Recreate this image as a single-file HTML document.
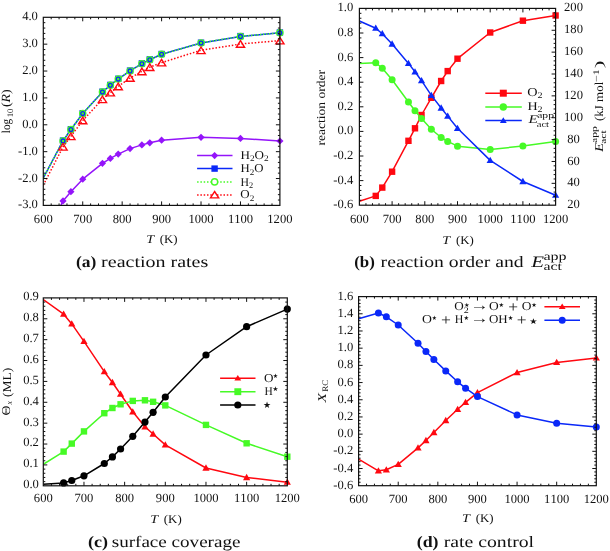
<!DOCTYPE html><html><head><meta charset="utf-8"><title>Figure</title><style>html,body{margin:0;padding:0;background:#fff;}svg{display:block;}text{font-family:'Liberation Serif', 'DejaVu Serif', serif;fill:#111;white-space:pre;font-kerning:none;text-rendering:geometricPrecision;}.st{font-family:'DejaVu Sans', sans-serif;}</style></head><body>
<svg width="610" height="551" viewBox="0 0 610 551">
<rect width="610" height="551" fill="#fff"/>
<defs>
<clipPath id="ca"><rect x="43.30" y="17.30" width="236.60" height="188.10"/></clipPath>
<clipPath id="cb"><rect x="359.40" y="8.40" width="196.20" height="196.80"/></clipPath>
<clipPath id="cc"><rect x="43.30" y="297.90" width="244.00" height="187.90"/></clipPath>
<clipPath id="cd"><rect x="358.60" y="296.60" width="237.70" height="189.10"/></clipPath>
</defs>
<polyline points="43.30,243.00 63.02,200.90 70.90,191.70 82.73,179.20 102.45,163.30 110.34,158.40 118.22,154.10 130.05,148.60 141.88,144.90 149.77,142.80 161.60,140.20 201.03,137.30 240.47,138.40 279.90,141.00" fill="none" stroke="#9414fa" stroke-width="1.5" stroke-linejoin="round" clip-path="url(#ca)"/>
<polygon points="63.02,197.30 66.62,200.90 63.02,204.50 59.42,200.90" fill="#9414fa"/>
<polygon points="70.90,188.10 74.50,191.70 70.90,195.30 67.30,191.70" fill="#9414fa"/>
<polygon points="82.73,175.60 86.33,179.20 82.73,182.80 79.13,179.20" fill="#9414fa"/>
<polygon points="102.45,159.70 106.05,163.30 102.45,166.90 98.85,163.30" fill="#9414fa"/>
<polygon points="110.34,154.80 113.94,158.40 110.34,162.00 106.74,158.40" fill="#9414fa"/>
<polygon points="118.22,150.50 121.82,154.10 118.22,157.70 114.62,154.10" fill="#9414fa"/>
<polygon points="130.05,145.00 133.65,148.60 130.05,152.20 126.45,148.60" fill="#9414fa"/>
<polygon points="141.88,141.30 145.48,144.90 141.88,148.50 138.28,144.90" fill="#9414fa"/>
<polygon points="149.77,139.20 153.37,142.80 149.77,146.40 146.17,142.80" fill="#9414fa"/>
<polygon points="161.60,136.60 165.20,140.20 161.60,143.80 158.00,140.20" fill="#9414fa"/>
<polygon points="201.03,133.70 204.63,137.30 201.03,140.90 197.43,137.30" fill="#9414fa"/>
<polygon points="240.47,134.80 244.07,138.40 240.47,142.00 236.87,138.40" fill="#9414fa"/>
<polygon points="279.90,137.40 283.50,141.00 279.90,144.60 276.30,141.00" fill="#9414fa"/>
<polyline points="43.30,178.00 63.02,140.90 70.90,129.50 82.73,113.50 102.45,92.00 110.34,85.20 118.22,79.10 130.05,70.90 141.88,63.70 149.77,59.70 161.60,54.30 201.03,43.00 240.47,36.40 279.90,32.80" fill="none" stroke="#0a28f8" stroke-width="1.5" stroke-linejoin="round" clip-path="url(#ca)"/>
<rect x="59.82" y="137.40" width="6.40" height="6.40" fill="#0a28f8"/>
<rect x="67.70" y="126.00" width="6.40" height="6.40" fill="#0a28f8"/>
<rect x="79.53" y="110.00" width="6.40" height="6.40" fill="#0a28f8"/>
<rect x="99.25" y="88.50" width="6.40" height="6.40" fill="#0a28f8"/>
<rect x="107.14" y="81.70" width="6.40" height="6.40" fill="#0a28f8"/>
<rect x="115.02" y="75.60" width="6.40" height="6.40" fill="#0a28f8"/>
<rect x="126.85" y="67.40" width="6.40" height="6.40" fill="#0a28f8"/>
<rect x="138.68" y="60.20" width="6.40" height="6.40" fill="#0a28f8"/>
<rect x="146.57" y="56.20" width="6.40" height="6.40" fill="#0a28f8"/>
<rect x="158.40" y="50.80" width="6.40" height="6.40" fill="#0a28f8"/>
<rect x="197.83" y="39.50" width="6.40" height="6.40" fill="#0a28f8"/>
<rect x="237.27" y="32.90" width="6.40" height="6.40" fill="#0a28f8"/>
<rect x="276.70" y="29.30" width="6.40" height="6.40" fill="#0a28f8"/>
<polyline points="43.30,178.00 63.02,140.90 70.90,129.50 82.73,113.50 102.45,92.00 110.34,85.20 118.22,79.10 130.05,70.90 141.88,63.70 149.77,59.70 161.60,54.30 201.03,43.00 240.47,36.40 279.90,32.80" fill="none" stroke="#46fa26" stroke-width="1.5" stroke-linejoin="round" stroke-dasharray="1.5,1.5" clip-path="url(#ca)"/>
<circle cx="63.02" cy="140.90" r="3.75" fill="#46fa26"/>
<circle cx="63.02" cy="140.90" r="1.9" fill="none" stroke="#0a28f8" stroke-width="1.3"/>
<circle cx="70.90" cy="129.50" r="3.75" fill="#46fa26"/>
<circle cx="70.90" cy="129.50" r="1.9" fill="none" stroke="#0a28f8" stroke-width="1.3"/>
<circle cx="82.73" cy="113.50" r="3.75" fill="#46fa26"/>
<circle cx="82.73" cy="113.50" r="1.9" fill="none" stroke="#0a28f8" stroke-width="1.3"/>
<circle cx="102.45" cy="92.00" r="3.75" fill="#46fa26"/>
<circle cx="102.45" cy="92.00" r="1.9" fill="none" stroke="#0a28f8" stroke-width="1.3"/>
<circle cx="110.34" cy="85.20" r="3.75" fill="#46fa26"/>
<circle cx="110.34" cy="85.20" r="1.9" fill="none" stroke="#0a28f8" stroke-width="1.3"/>
<circle cx="118.22" cy="79.10" r="3.75" fill="#46fa26"/>
<circle cx="118.22" cy="79.10" r="1.9" fill="none" stroke="#0a28f8" stroke-width="1.3"/>
<circle cx="130.05" cy="70.90" r="3.75" fill="#46fa26"/>
<circle cx="130.05" cy="70.90" r="1.9" fill="none" stroke="#0a28f8" stroke-width="1.3"/>
<circle cx="141.88" cy="63.70" r="3.75" fill="#46fa26"/>
<circle cx="141.88" cy="63.70" r="1.9" fill="none" stroke="#0a28f8" stroke-width="1.3"/>
<circle cx="149.77" cy="59.70" r="3.75" fill="#46fa26"/>
<circle cx="149.77" cy="59.70" r="1.9" fill="none" stroke="#0a28f8" stroke-width="1.3"/>
<circle cx="161.60" cy="54.30" r="3.75" fill="#46fa26"/>
<circle cx="161.60" cy="54.30" r="1.9" fill="none" stroke="#0a28f8" stroke-width="1.3"/>
<circle cx="201.03" cy="43.00" r="3.75" fill="#46fa26"/>
<circle cx="201.03" cy="43.00" r="1.9" fill="none" stroke="#0a28f8" stroke-width="1.3"/>
<circle cx="240.47" cy="36.40" r="3.75" fill="#46fa26"/>
<circle cx="240.47" cy="36.40" r="1.9" fill="none" stroke="#0a28f8" stroke-width="1.3"/>
<circle cx="279.90" cy="32.80" r="3.75" fill="#46fa26"/>
<circle cx="279.90" cy="32.80" r="1.9" fill="none" stroke="#0a28f8" stroke-width="1.3"/>
<polyline points="43.30,185.20 63.02,146.80 70.90,136.30 82.73,120.50 102.45,99.30 110.34,92.60 118.22,86.40 130.05,78.00 141.88,71.40 149.77,67.20 161.60,62.60 201.03,50.30 240.47,44.00 279.90,40.60" fill="none" stroke="#ff0810" stroke-width="1.5" stroke-linejoin="round" stroke-dasharray="1.5,1.8" clip-path="url(#ca)"/>
<polygon points="63.02,143.50 67.12,150.10 58.92,150.10" fill="none" stroke="#ff0810" stroke-width="1.4" stroke-linejoin="miter"/>
<polygon points="70.90,133.00 75.00,139.60 66.80,139.60" fill="none" stroke="#ff0810" stroke-width="1.4" stroke-linejoin="miter"/>
<polygon points="82.73,117.20 86.83,123.80 78.63,123.80" fill="none" stroke="#ff0810" stroke-width="1.4" stroke-linejoin="miter"/>
<polygon points="102.45,96.00 106.55,102.60 98.35,102.60" fill="none" stroke="#ff0810" stroke-width="1.4" stroke-linejoin="miter"/>
<polygon points="110.34,89.30 114.44,95.90 106.24,95.90" fill="none" stroke="#ff0810" stroke-width="1.4" stroke-linejoin="miter"/>
<polygon points="118.22,83.10 122.32,89.70 114.12,89.70" fill="none" stroke="#ff0810" stroke-width="1.4" stroke-linejoin="miter"/>
<polygon points="130.05,74.70 134.15,81.30 125.95,81.30" fill="none" stroke="#ff0810" stroke-width="1.4" stroke-linejoin="miter"/>
<polygon points="141.88,68.10 145.98,74.70 137.78,74.70" fill="none" stroke="#ff0810" stroke-width="1.4" stroke-linejoin="miter"/>
<polygon points="149.77,63.90 153.87,70.50 145.67,70.50" fill="none" stroke="#ff0810" stroke-width="1.4" stroke-linejoin="miter"/>
<polygon points="161.60,59.30 165.70,65.90 157.50,65.90" fill="none" stroke="#ff0810" stroke-width="1.4" stroke-linejoin="miter"/>
<polygon points="201.03,47.00 205.13,53.60 196.93,53.60" fill="none" stroke="#ff0810" stroke-width="1.4" stroke-linejoin="miter"/>
<polygon points="240.47,40.70 244.57,47.30 236.37,47.30" fill="none" stroke="#ff0810" stroke-width="1.4" stroke-linejoin="miter"/>
<polygon points="279.90,37.30 284.00,43.90 275.80,43.90" fill="none" stroke="#ff0810" stroke-width="1.4" stroke-linejoin="miter"/>
<rect x="43.30" y="17.30" width="236.60" height="188.10" fill="none" stroke="#111111" stroke-width="1.2"/>
<text x="43.30" y="223.20" text-anchor="middle" font-size="12.6">600</text>
<text x="82.73" y="223.20" text-anchor="middle" font-size="12.6">700</text>
<text x="122.17" y="223.20" text-anchor="middle" font-size="12.6">800</text>
<text x="161.60" y="223.20" text-anchor="middle" font-size="12.6">900</text>
<text x="201.03" y="223.20" text-anchor="middle" font-size="12.6">1000</text>
<text x="240.47" y="223.20" text-anchor="middle" font-size="12.6">1100</text>
<text x="279.90" y="223.20" text-anchor="middle" font-size="12.6">1200</text>
<path d="M51.19 205.40V203.40M51.19 17.30V19.30M59.07 205.40V203.40M59.07 17.30V19.30M66.96 205.40V203.40M66.96 17.30V19.30M74.85 205.40V203.40M74.85 17.30V19.30M82.73 205.40V201.40M82.73 17.30V21.30M90.62 205.40V203.40M90.62 17.30V19.30M98.51 205.40V203.40M98.51 17.30V19.30M106.39 205.40V203.40M106.39 17.30V19.30M114.28 205.40V203.40M114.28 17.30V19.30M122.17 205.40V201.40M122.17 17.30V21.30M130.05 205.40V203.40M130.05 17.30V19.30M137.94 205.40V203.40M137.94 17.30V19.30M145.83 205.40V203.40M145.83 17.30V19.30M153.71 205.40V203.40M153.71 17.30V19.30M161.60 205.40V201.40M161.60 17.30V21.30M169.49 205.40V203.40M169.49 17.30V19.30M177.37 205.40V203.40M177.37 17.30V19.30M185.26 205.40V203.40M185.26 17.30V19.30M193.15 205.40V203.40M193.15 17.30V19.30M201.03 205.40V201.40M201.03 17.30V21.30M208.92 205.40V203.40M208.92 17.30V19.30M216.81 205.40V203.40M216.81 17.30V19.30M224.69 205.40V203.40M224.69 17.30V19.30M232.58 205.40V203.40M232.58 17.30V19.30M240.47 205.40V201.40M240.47 17.30V21.30M248.35 205.40V203.40M248.35 17.30V19.30M256.24 205.40V203.40M256.24 17.30V19.30M264.13 205.40V203.40M264.13 17.30V19.30M272.01 205.40V203.40M272.01 17.30V19.30" stroke="#111111" stroke-width="1" fill="none"/>
<text x="37.90" y="208.45" text-anchor="end" font-size="12.6">-3.0</text>
<text x="37.90" y="181.58" text-anchor="end" font-size="12.6">-2.0</text>
<text x="37.90" y="154.71" text-anchor="end" font-size="12.6">-1.0</text>
<text x="37.90" y="127.84" text-anchor="end" font-size="12.6">0.0</text>
<text x="37.90" y="100.96" text-anchor="end" font-size="12.6">1.0</text>
<text x="37.90" y="74.09" text-anchor="end" font-size="12.6">2.0</text>
<text x="37.90" y="47.22" text-anchor="end" font-size="12.6">3.0</text>
<text x="37.90" y="20.35" text-anchor="end" font-size="12.6">4.0</text>
<path d="M43.30 200.03H45.30M279.90 200.03H277.90M43.30 194.65H45.30M279.90 194.65H277.90M43.30 189.28H45.30M279.90 189.28H277.90M43.30 183.90H45.30M279.90 183.90H277.90M43.30 178.53H47.30M279.90 178.53H275.90M43.30 173.15H45.30M279.90 173.15H277.90M43.30 167.78H45.30M279.90 167.78H277.90M43.30 162.41H45.30M279.90 162.41H277.90M43.30 157.03H45.30M279.90 157.03H277.90M43.30 151.66H47.30M279.90 151.66H275.90M43.30 146.28H45.30M279.90 146.28H277.90M43.30 140.91H45.30M279.90 140.91H277.90M43.30 135.53H45.30M279.90 135.53H277.90M43.30 130.16H45.30M279.90 130.16H277.90M43.30 124.79H47.30M279.90 124.79H275.90M43.30 119.41H45.30M279.90 119.41H277.90M43.30 114.04H45.30M279.90 114.04H277.90M43.30 108.66H45.30M279.90 108.66H277.90M43.30 103.29H45.30M279.90 103.29H277.90M43.30 97.91H47.30M279.90 97.91H275.90M43.30 92.54H45.30M279.90 92.54H277.90M43.30 87.17H45.30M279.90 87.17H277.90M43.30 81.79H45.30M279.90 81.79H277.90M43.30 76.42H45.30M279.90 76.42H277.90M43.30 71.04H47.30M279.90 71.04H275.90M43.30 65.67H45.30M279.90 65.67H277.90M43.30 60.29H45.30M279.90 60.29H277.90M43.30 54.92H45.30M279.90 54.92H277.90M43.30 49.55H45.30M279.90 49.55H277.90M43.30 44.17H47.30M279.90 44.17H275.90M43.30 38.80H45.30M279.90 38.80H277.90M43.30 33.42H45.30M279.90 33.42H277.90M43.30 28.05H45.30M279.90 28.05H277.90M43.30 22.67H45.30M279.90 22.67H277.90" stroke="#111111" stroke-width="1" fill="none"/>
<path d="M197.1 155.6H232.5" stroke="#9414fa" stroke-width="1.5"/>
<polygon points="214.60,152.00 218.20,155.60 214.60,159.20 211.00,155.60" fill="#9414fa"/>
<path d="M197.1 168.6H232.5" stroke="#0a28f8" stroke-width="1.5"/>
<rect x="211.40" y="165.40" width="6.40" height="6.40" fill="#0a28f8"/>
<path d="M197.1 181.9H232.5" stroke="#46fa26" stroke-width="1.5" stroke-dasharray="1.5,1.8"/>
<circle cx="214.60" cy="181.90" r="3.1" fill="#fff" stroke="#46fa26" stroke-width="1.4"/>
<path d="M197.1 194.9H232.5" stroke="#ff0810" stroke-width="1.5" stroke-dasharray="1.5,1.8"/>
<polygon points="214.60,191.50 218.70,197.90 210.50,197.90" fill="#fff" stroke="#ff0810" stroke-width="1.4"/>
<polyline points="359.40,201.30 375.75,195.90 382.29,187.60 392.10,171.70 408.45,140.80 414.99,128.30 421.53,115.00 431.34,97.80 441.15,81.00 447.69,71.10 457.50,58.70 490.20,32.50 522.90,20.70 555.60,15.50" fill="none" stroke="#ff0810" stroke-width="1.5" stroke-linejoin="round" clip-path="url(#cb)"/>
<rect x="372.55" y="192.70" width="6.40" height="6.40" fill="#ff0810"/>
<rect x="379.09" y="184.40" width="6.40" height="6.40" fill="#ff0810"/>
<rect x="388.90" y="168.50" width="6.40" height="6.40" fill="#ff0810"/>
<rect x="405.25" y="137.60" width="6.40" height="6.40" fill="#ff0810"/>
<rect x="411.79" y="125.10" width="6.40" height="6.40" fill="#ff0810"/>
<rect x="418.33" y="111.80" width="6.40" height="6.40" fill="#ff0810"/>
<rect x="428.14" y="94.60" width="6.40" height="6.40" fill="#ff0810"/>
<rect x="437.95" y="77.80" width="6.40" height="6.40" fill="#ff0810"/>
<rect x="444.49" y="67.90" width="6.40" height="6.40" fill="#ff0810"/>
<rect x="454.30" y="55.50" width="6.40" height="6.40" fill="#ff0810"/>
<rect x="487.00" y="29.30" width="6.40" height="6.40" fill="#ff0810"/>
<rect x="519.70" y="17.50" width="6.40" height="6.40" fill="#ff0810"/>
<rect x="552.40" y="12.30" width="6.40" height="6.40" fill="#ff0810"/>
<polyline points="359.40,63.40 375.75,62.70 382.29,68.20 392.10,79.80 408.45,102.00 414.99,110.70 421.53,118.50 431.34,129.20 441.15,137.50 447.69,141.40 457.50,146.20 490.20,149.50 522.90,146.00 555.60,141.40" fill="none" stroke="#46fa26" stroke-width="1.5" stroke-linejoin="round" clip-path="url(#cb)"/>
<circle cx="375.75" cy="62.70" r="3.50" fill="#46fa26"/>
<circle cx="382.29" cy="68.20" r="3.50" fill="#46fa26"/>
<circle cx="392.10" cy="79.80" r="3.50" fill="#46fa26"/>
<circle cx="408.45" cy="102.00" r="3.50" fill="#46fa26"/>
<circle cx="414.99" cy="110.70" r="3.50" fill="#46fa26"/>
<circle cx="421.53" cy="118.50" r="3.50" fill="#46fa26"/>
<circle cx="431.34" cy="129.20" r="3.50" fill="#46fa26"/>
<circle cx="441.15" cy="137.50" r="3.50" fill="#46fa26"/>
<circle cx="447.69" cy="141.40" r="3.50" fill="#46fa26"/>
<circle cx="457.50" cy="146.20" r="3.50" fill="#46fa26"/>
<circle cx="490.20" cy="149.50" r="3.50" fill="#46fa26"/>
<circle cx="522.90" cy="146.00" r="3.50" fill="#46fa26"/>
<circle cx="555.60" cy="141.40" r="3.50" fill="#46fa26"/>
<polyline points="359.40,21.00 375.75,28.20 382.29,33.70 392.10,44.00 408.45,63.40 414.99,71.80 421.53,80.70 431.34,95.40 441.15,108.00 447.69,116.10 457.50,128.30 490.20,160.40 522.90,181.50 555.60,195.20" fill="none" stroke="#0a28f8" stroke-width="1.5" stroke-linejoin="round" clip-path="url(#cb)"/>
<polygon points="375.75,24.55 379.35,30.85 372.15,30.85" fill="#0a28f8"/>
<polygon points="382.29,30.05 385.89,36.35 378.69,36.35" fill="#0a28f8"/>
<polygon points="392.10,40.35 395.70,46.65 388.50,46.65" fill="#0a28f8"/>
<polygon points="408.45,59.75 412.05,66.05 404.85,66.05" fill="#0a28f8"/>
<polygon points="414.99,68.15 418.59,74.45 411.39,74.45" fill="#0a28f8"/>
<polygon points="421.53,77.05 425.13,83.35 417.93,83.35" fill="#0a28f8"/>
<polygon points="431.34,91.75 434.94,98.05 427.74,98.05" fill="#0a28f8"/>
<polygon points="441.15,104.35 444.75,110.65 437.55,110.65" fill="#0a28f8"/>
<polygon points="447.69,112.45 451.29,118.75 444.09,118.75" fill="#0a28f8"/>
<polygon points="457.50,124.65 461.10,130.95 453.90,130.95" fill="#0a28f8"/>
<polygon points="490.20,156.75 493.80,163.05 486.60,163.05" fill="#0a28f8"/>
<polygon points="522.90,177.85 526.50,184.15 519.30,184.15" fill="#0a28f8"/>
<polygon points="555.60,191.55 559.20,197.85 552.00,197.85" fill="#0a28f8"/>
<rect x="359.40" y="8.40" width="196.20" height="196.80" fill="none" stroke="#111111" stroke-width="1.2"/>
<text x="359.40" y="223.40" text-anchor="middle" font-size="12.6">600</text>
<text x="392.10" y="223.40" text-anchor="middle" font-size="12.6">700</text>
<text x="424.80" y="223.40" text-anchor="middle" font-size="12.6">800</text>
<text x="457.50" y="223.40" text-anchor="middle" font-size="12.6">900</text>
<text x="490.20" y="223.40" text-anchor="middle" font-size="12.6">1000</text>
<text x="522.90" y="223.40" text-anchor="middle" font-size="12.6">1100</text>
<text x="555.60" y="223.40" text-anchor="middle" font-size="12.6">1200</text>
<path d="M365.94 205.20V203.20M365.94 8.40V10.40M372.48 205.20V203.20M372.48 8.40V10.40M379.02 205.20V203.20M379.02 8.40V10.40M385.56 205.20V203.20M385.56 8.40V10.40M392.10 205.20V201.20M392.10 8.40V12.40M398.64 205.20V203.20M398.64 8.40V10.40M405.18 205.20V203.20M405.18 8.40V10.40M411.72 205.20V203.20M411.72 8.40V10.40M418.26 205.20V203.20M418.26 8.40V10.40M424.80 205.20V201.20M424.80 8.40V12.40M431.34 205.20V203.20M431.34 8.40V10.40M437.88 205.20V203.20M437.88 8.40V10.40M444.42 205.20V203.20M444.42 8.40V10.40M450.96 205.20V203.20M450.96 8.40V10.40M457.50 205.20V201.20M457.50 8.40V12.40M464.04 205.20V203.20M464.04 8.40V10.40M470.58 205.20V203.20M470.58 8.40V10.40M477.12 205.20V203.20M477.12 8.40V10.40M483.66 205.20V203.20M483.66 8.40V10.40M490.20 205.20V201.20M490.20 8.40V12.40M496.74 205.20V203.20M496.74 8.40V10.40M503.28 205.20V203.20M503.28 8.40V10.40M509.82 205.20V203.20M509.82 8.40V10.40M516.36 205.20V203.20M516.36 8.40V10.40M522.90 205.20V201.20M522.90 8.40V12.40M529.44 205.20V203.20M529.44 8.40V10.40M535.98 205.20V203.20M535.98 8.40V10.40M542.52 205.20V203.20M542.52 8.40V10.40M549.06 205.20V203.20M549.06 8.40V10.40" stroke="#111111" stroke-width="1" fill="none"/>
<text x="353.20" y="208.25" text-anchor="end" font-size="12.6">-0.6</text>
<text x="353.20" y="183.65" text-anchor="end" font-size="12.6">-0.4</text>
<text x="353.20" y="159.05" text-anchor="end" font-size="12.6">-0.2</text>
<text x="353.20" y="134.45" text-anchor="end" font-size="12.6">0.0</text>
<text x="353.20" y="109.85" text-anchor="end" font-size="12.6">0.2</text>
<text x="353.20" y="85.25" text-anchor="end" font-size="12.6">0.4</text>
<text x="353.20" y="60.65" text-anchor="end" font-size="12.6">0.6</text>
<text x="353.20" y="36.05" text-anchor="end" font-size="12.6">0.8</text>
<text x="353.20" y="11.45" text-anchor="end" font-size="12.6">1.0</text>
<path d="M359.40 200.28H361.40M359.40 195.36H361.40M359.40 190.44H361.40M359.40 185.52H361.40M359.40 180.60H363.40M359.40 175.68H361.40M359.40 170.76H361.40M359.40 165.84H361.40M359.40 160.92H361.40M359.40 156.00H363.40M359.40 151.08H361.40M359.40 146.16H361.40M359.40 141.24H361.40M359.40 136.32H361.40M359.40 131.40H363.40M359.40 126.48H361.40M359.40 121.56H361.40M359.40 116.64H361.40M359.40 111.72H361.40M359.40 106.80H363.40M359.40 101.88H361.40M359.40 96.96H361.40M359.40 92.04H361.40M359.40 87.12H361.40M359.40 82.20H363.40M359.40 77.28H361.40M359.40 72.36H361.40M359.40 67.44H361.40M359.40 62.52H361.40M359.40 57.60H363.40M359.40 52.68H361.40M359.40 47.76H361.40M359.40 42.84H361.40M359.40 37.92H361.40M359.40 33.00H363.40M359.40 28.08H361.40M359.40 23.16H361.40M359.40 18.24H361.40M359.40 13.32H361.40" stroke="#111111" stroke-width="1" fill="none"/>
<path d="M555.60 200.83H553.60M555.60 196.45H553.60M555.60 192.08H553.60M555.60 187.71H553.60M555.60 183.33H551.60M555.60 178.96H553.60M555.60 174.59H553.60M555.60 170.21H553.60M555.60 165.84H553.60M555.60 161.47H551.60M555.60 157.09H553.60M555.60 152.72H553.60M555.60 148.35H553.60M555.60 143.97H553.60M555.60 139.60H551.60M555.60 135.23H553.60M555.60 130.85H553.60M555.60 126.48H553.60M555.60 122.11H553.60M555.60 117.73H551.60M555.60 113.36H553.60M555.60 108.99H553.60M555.60 104.61H553.60M555.60 100.24H553.60M555.60 95.87H551.60M555.60 91.49H553.60M555.60 87.12H553.60M555.60 82.75H553.60M555.60 78.37H553.60M555.60 74.00H551.60M555.60 69.63H553.60M555.60 65.25H553.60M555.60 60.88H553.60M555.60 56.51H553.60M555.60 52.13H551.60M555.60 47.76H553.60M555.60 43.39H553.60M555.60 39.01H553.60M555.60 34.64H553.60M555.60 30.27H551.60M555.60 25.89H553.60M555.60 21.52H553.60M555.60 17.15H553.60M555.60 12.77H553.60" stroke="#111111" stroke-width="1" fill="none"/>
<path d="M485.3 93.2H521.8" stroke="#ff0810" stroke-width="1.5"/>
<rect x="499.80" y="89.70" width="7.00" height="7.00" fill="#ff0810"/>
<path d="M485.3 107.0H521.8" stroke="#46fa26" stroke-width="1.5"/>
<circle cx="503.30" cy="107.00" r="3.70" fill="#46fa26"/>
<path d="M485.3 120.6H521.8" stroke="#0a28f8" stroke-width="1.5"/>
<polygon points="503.30,117.30 506.70,122.90 499.90,122.90" fill="#0a28f8"/>
<polyline points="43.30,299.60 63.63,314.20 71.77,323.90 83.97,341.40 104.30,371.70 112.43,382.50 120.57,394.20 132.77,411.80 144.97,426.80 153.10,434.00 165.30,444.90 205.97,468.00 246.63,477.50 287.30,482.20" fill="none" stroke="#ff0810" stroke-width="1.5" stroke-linejoin="round" clip-path="url(#cc)"/>
<polygon points="63.63,310.55 67.23,316.85 60.03,316.85" fill="#ff0810"/>
<polygon points="71.77,320.25 75.37,326.55 68.17,326.55" fill="#ff0810"/>
<polygon points="83.97,337.75 87.57,344.05 80.37,344.05" fill="#ff0810"/>
<polygon points="104.30,368.05 107.90,374.35 100.70,374.35" fill="#ff0810"/>
<polygon points="112.43,378.85 116.03,385.15 108.83,385.15" fill="#ff0810"/>
<polygon points="120.57,390.55 124.17,396.85 116.97,396.85" fill="#ff0810"/>
<polygon points="132.77,408.15 136.37,414.45 129.17,414.45" fill="#ff0810"/>
<polygon points="144.97,423.15 148.57,429.45 141.37,429.45" fill="#ff0810"/>
<polygon points="153.10,430.35 156.70,436.65 149.50,436.65" fill="#ff0810"/>
<polygon points="165.30,441.25 168.90,447.55 161.70,447.55" fill="#ff0810"/>
<polygon points="205.97,464.35 209.57,470.65 202.37,470.65" fill="#ff0810"/>
<polygon points="246.63,473.85 250.23,480.15 243.03,480.15" fill="#ff0810"/>
<polygon points="287.30,478.55 290.90,484.85 283.70,484.85" fill="#ff0810"/>
<polyline points="43.30,464.30 63.63,451.60 71.77,443.60 83.97,431.40 104.30,413.20 112.43,408.00 120.57,404.30 132.77,400.90 144.97,400.30 153.10,401.80 165.30,405.40 205.97,424.90 246.63,443.30 287.30,456.70" fill="none" stroke="#46fa26" stroke-width="1.5" stroke-linejoin="round" clip-path="url(#cc)"/>
<rect x="60.43" y="448.40" width="6.40" height="6.40" fill="#46fa26"/>
<rect x="68.57" y="440.40" width="6.40" height="6.40" fill="#46fa26"/>
<rect x="80.77" y="428.20" width="6.40" height="6.40" fill="#46fa26"/>
<rect x="101.10" y="410.00" width="6.40" height="6.40" fill="#46fa26"/>
<rect x="109.23" y="404.80" width="6.40" height="6.40" fill="#46fa26"/>
<rect x="117.37" y="401.10" width="6.40" height="6.40" fill="#46fa26"/>
<rect x="129.57" y="397.70" width="6.40" height="6.40" fill="#46fa26"/>
<rect x="141.77" y="397.10" width="6.40" height="6.40" fill="#46fa26"/>
<rect x="149.90" y="398.60" width="6.40" height="6.40" fill="#46fa26"/>
<rect x="162.10" y="402.20" width="6.40" height="6.40" fill="#46fa26"/>
<rect x="202.77" y="421.70" width="6.40" height="6.40" fill="#46fa26"/>
<rect x="243.43" y="440.10" width="6.40" height="6.40" fill="#46fa26"/>
<rect x="284.10" y="453.50" width="6.40" height="6.40" fill="#46fa26"/>
<polyline points="43.30,484.30 63.63,482.90 71.77,480.50 83.97,475.80 104.30,463.50 112.43,456.90 120.57,449.00 132.77,436.30 144.97,422.10 153.10,412.30 165.30,397.00 205.97,355.00 246.63,326.70 287.30,309.10" fill="none" stroke="#000000" stroke-width="1.5" stroke-linejoin="round" clip-path="url(#cc)"/>
<circle cx="63.63" cy="482.90" r="3.60" fill="#000000"/>
<circle cx="71.77" cy="480.50" r="3.60" fill="#000000"/>
<circle cx="83.97" cy="475.80" r="3.60" fill="#000000"/>
<circle cx="104.30" cy="463.50" r="3.60" fill="#000000"/>
<circle cx="112.43" cy="456.90" r="3.60" fill="#000000"/>
<circle cx="120.57" cy="449.00" r="3.60" fill="#000000"/>
<circle cx="132.77" cy="436.30" r="3.60" fill="#000000"/>
<circle cx="144.97" cy="422.10" r="3.60" fill="#000000"/>
<circle cx="153.10" cy="412.30" r="3.60" fill="#000000"/>
<circle cx="165.30" cy="397.00" r="3.60" fill="#000000"/>
<circle cx="205.97" cy="355.00" r="3.60" fill="#000000"/>
<circle cx="246.63" cy="326.70" r="3.60" fill="#000000"/>
<circle cx="287.30" cy="309.10" r="3.60" fill="#000000"/>
<rect x="43.30" y="297.90" width="244.00" height="187.90" fill="none" stroke="#111111" stroke-width="1.2"/>
<text x="43.30" y="502.10" text-anchor="middle" font-size="12.6">600</text>
<text x="83.97" y="502.10" text-anchor="middle" font-size="12.6">700</text>
<text x="124.63" y="502.10" text-anchor="middle" font-size="12.6">800</text>
<text x="165.30" y="502.10" text-anchor="middle" font-size="12.6">900</text>
<text x="205.97" y="502.10" text-anchor="middle" font-size="12.6">1000</text>
<text x="246.63" y="502.10" text-anchor="middle" font-size="12.6">1100</text>
<text x="287.30" y="502.10" text-anchor="middle" font-size="12.6">1200</text>
<path d="M51.43 485.80V483.80M51.43 297.90V299.90M59.57 485.80V483.80M59.57 297.90V299.90M67.70 485.80V483.80M67.70 297.90V299.90M75.83 485.80V483.80M75.83 297.90V299.90M83.97 485.80V481.80M83.97 297.90V301.90M92.10 485.80V483.80M92.10 297.90V299.90M100.23 485.80V483.80M100.23 297.90V299.90M108.37 485.80V483.80M108.37 297.90V299.90M116.50 485.80V483.80M116.50 297.90V299.90M124.63 485.80V481.80M124.63 297.90V301.90M132.77 485.80V483.80M132.77 297.90V299.90M140.90 485.80V483.80M140.90 297.90V299.90M149.03 485.80V483.80M149.03 297.90V299.90M157.17 485.80V483.80M157.17 297.90V299.90M165.30 485.80V481.80M165.30 297.90V301.90M173.43 485.80V483.80M173.43 297.90V299.90M181.57 485.80V483.80M181.57 297.90V299.90M189.70 485.80V483.80M189.70 297.90V299.90M197.83 485.80V483.80M197.83 297.90V299.90M205.97 485.80V481.80M205.97 297.90V301.90M214.10 485.80V483.80M214.10 297.90V299.90M222.23 485.80V483.80M222.23 297.90V299.90M230.37 485.80V483.80M230.37 297.90V299.90M238.50 485.80V483.80M238.50 297.90V299.90M246.63 485.80V481.80M246.63 297.90V301.90M254.77 485.80V483.80M254.77 297.90V299.90M262.90 485.80V483.80M262.90 297.90V299.90M271.03 485.80V483.80M271.03 297.90V299.90M279.17 485.80V483.80M279.17 297.90V299.90" stroke="#111111" stroke-width="1" fill="none"/>
<text x="38.90" y="488.20" text-anchor="end" font-size="12.6">0.0</text>
<text x="38.90" y="467.32" text-anchor="end" font-size="12.6">0.1</text>
<text x="38.90" y="446.44" text-anchor="end" font-size="12.6">0.2</text>
<text x="38.90" y="425.57" text-anchor="end" font-size="12.6">0.3</text>
<text x="38.90" y="404.69" text-anchor="end" font-size="12.6">0.4</text>
<text x="38.90" y="383.81" text-anchor="end" font-size="12.6">0.5</text>
<text x="38.90" y="362.93" text-anchor="end" font-size="12.6">0.6</text>
<text x="38.90" y="342.06" text-anchor="end" font-size="12.6">0.7</text>
<text x="38.90" y="321.18" text-anchor="end" font-size="12.6">0.8</text>
<text x="38.90" y="300.30" text-anchor="end" font-size="12.6">0.9</text>
<path d="M43.30 481.62H45.30M287.30 481.62H285.30M43.30 477.45H45.30M287.30 477.45H285.30M43.30 473.27H45.30M287.30 473.27H285.30M43.30 469.10H45.30M287.30 469.10H285.30M43.30 464.92H47.30M287.30 464.92H283.30M43.30 460.75H45.30M287.30 460.75H285.30M43.30 456.57H45.30M287.30 456.57H285.30M43.30 452.40H45.30M287.30 452.40H285.30M43.30 448.22H45.30M287.30 448.22H285.30M43.30 444.04H47.30M287.30 444.04H283.30M43.30 439.87H45.30M287.30 439.87H285.30M43.30 435.69H45.30M287.30 435.69H285.30M43.30 431.52H45.30M287.30 431.52H285.30M43.30 427.34H45.30M287.30 427.34H285.30M43.30 423.17H47.30M287.30 423.17H283.30M43.30 418.99H45.30M287.30 418.99H285.30M43.30 414.82H45.30M287.30 414.82H285.30M43.30 410.64H45.30M287.30 410.64H285.30M43.30 406.46H45.30M287.30 406.46H285.30M43.30 402.29H47.30M287.30 402.29H283.30M43.30 398.11H45.30M287.30 398.11H285.30M43.30 393.94H45.30M287.30 393.94H285.30M43.30 389.76H45.30M287.30 389.76H285.30M43.30 385.59H45.30M287.30 385.59H285.30M43.30 381.41H47.30M287.30 381.41H283.30M43.30 377.24H45.30M287.30 377.24H285.30M43.30 373.06H45.30M287.30 373.06H285.30M43.30 368.88H45.30M287.30 368.88H285.30M43.30 364.71H45.30M287.30 364.71H285.30M43.30 360.53H47.30M287.30 360.53H283.30M43.30 356.36H45.30M287.30 356.36H285.30M43.30 352.18H45.30M287.30 352.18H285.30M43.30 348.01H45.30M287.30 348.01H285.30M43.30 343.83H45.30M287.30 343.83H285.30M43.30 339.66H47.30M287.30 339.66H283.30M43.30 335.48H45.30M287.30 335.48H285.30M43.30 331.30H45.30M287.30 331.30H285.30M43.30 327.13H45.30M287.30 327.13H285.30M43.30 322.95H45.30M287.30 322.95H285.30M43.30 318.78H47.30M287.30 318.78H283.30M43.30 314.60H45.30M287.30 314.60H285.30M43.30 310.43H45.30M287.30 310.43H285.30M43.30 306.25H45.30M287.30 306.25H285.30M43.30 302.08H45.30M287.30 302.08H285.30" stroke="#111111" stroke-width="1" fill="none"/>
<path d="M220.1 378.3H255.5" stroke="#ff0810" stroke-width="1.5"/>
<polygon points="237.80,375.00 241.20,380.60 234.40,380.60" fill="#ff0810"/>
<path d="M220.1 391.7H255.5" stroke="#46fa26" stroke-width="1.5"/>
<rect x="234.35" y="388.25" width="6.90" height="6.90" fill="#46fa26"/>
<path d="M220.1 405.0H255.5" stroke="#000000" stroke-width="1.5"/>
<circle cx="237.80" cy="405.00" r="3.60" fill="#000000"/>
<polyline points="358.60,459.20 378.41,470.80 386.33,469.80 398.22,464.40 418.02,447.90 425.95,440.50 433.87,432.50 445.76,420.50 457.64,409.30 465.56,402.40 477.45,392.60 517.07,372.60 556.68,362.40 596.30,357.90" fill="none" stroke="#ff0810" stroke-width="1.5" stroke-linejoin="round" clip-path="url(#cd)"/>
<polygon points="378.41,467.15 382.01,473.45 374.81,473.45" fill="#ff0810"/>
<polygon points="386.33,466.15 389.93,472.45 382.73,472.45" fill="#ff0810"/>
<polygon points="398.22,460.75 401.82,467.05 394.62,467.05" fill="#ff0810"/>
<polygon points="418.02,444.25 421.62,450.55 414.42,450.55" fill="#ff0810"/>
<polygon points="425.95,436.85 429.55,443.15 422.35,443.15" fill="#ff0810"/>
<polygon points="433.87,428.85 437.47,435.15 430.27,435.15" fill="#ff0810"/>
<polygon points="445.76,416.85 449.36,423.15 442.16,423.15" fill="#ff0810"/>
<polygon points="457.64,405.65 461.24,411.95 454.04,411.95" fill="#ff0810"/>
<polygon points="465.56,398.75 469.17,405.05 461.96,405.05" fill="#ff0810"/>
<polygon points="477.45,388.95 481.05,395.25 473.85,395.25" fill="#ff0810"/>
<polygon points="517.07,368.95 520.67,375.25 513.47,375.25" fill="#ff0810"/>
<polygon points="556.68,358.75 560.28,365.05 553.08,365.05" fill="#ff0810"/>
<polygon points="596.30,354.25 599.90,360.55 592.70,360.55" fill="#ff0810"/>
<polyline points="358.60,318.70 378.41,313.00 386.33,316.80 398.22,325.00 418.02,343.30 425.95,351.50 433.87,359.50 445.76,370.90 457.64,381.80 465.56,388.20 477.45,396.60 517.07,414.90 556.68,423.20 596.30,427.00" fill="none" stroke="#0a28f8" stroke-width="1.5" stroke-linejoin="round" clip-path="url(#cd)"/>
<circle cx="378.41" cy="313.00" r="3.50" fill="#0a28f8"/>
<circle cx="386.33" cy="316.80" r="3.50" fill="#0a28f8"/>
<circle cx="398.22" cy="325.00" r="3.50" fill="#0a28f8"/>
<circle cx="418.02" cy="343.30" r="3.50" fill="#0a28f8"/>
<circle cx="425.95" cy="351.50" r="3.50" fill="#0a28f8"/>
<circle cx="433.87" cy="359.50" r="3.50" fill="#0a28f8"/>
<circle cx="445.76" cy="370.90" r="3.50" fill="#0a28f8"/>
<circle cx="457.64" cy="381.80" r="3.50" fill="#0a28f8"/>
<circle cx="465.56" cy="388.20" r="3.50" fill="#0a28f8"/>
<circle cx="477.45" cy="396.60" r="3.50" fill="#0a28f8"/>
<circle cx="517.07" cy="414.90" r="3.50" fill="#0a28f8"/>
<circle cx="556.68" cy="423.20" r="3.50" fill="#0a28f8"/>
<circle cx="596.30" cy="427.00" r="3.50" fill="#0a28f8"/>
<rect x="358.60" y="296.60" width="237.70" height="189.10" fill="none" stroke="#111111" stroke-width="1.2"/>
<text x="358.60" y="502.70" text-anchor="middle" font-size="12.6">600</text>
<text x="398.22" y="502.70" text-anchor="middle" font-size="12.6">700</text>
<text x="437.83" y="502.70" text-anchor="middle" font-size="12.6">800</text>
<text x="477.45" y="502.70" text-anchor="middle" font-size="12.6">900</text>
<text x="517.07" y="502.70" text-anchor="middle" font-size="12.6">1000</text>
<text x="556.68" y="502.70" text-anchor="middle" font-size="12.6">1100</text>
<text x="596.30" y="502.70" text-anchor="middle" font-size="12.6">1200</text>
<path d="M366.52 485.70V483.70M366.52 296.60V298.60M374.45 485.70V483.70M374.45 296.60V298.60M382.37 485.70V483.70M382.37 296.60V298.60M390.29 485.70V483.70M390.29 296.60V298.60M398.22 485.70V481.70M398.22 296.60V300.60M406.14 485.70V483.70M406.14 296.60V298.60M414.06 485.70V483.70M414.06 296.60V298.60M421.99 485.70V483.70M421.99 296.60V298.60M429.91 485.70V483.70M429.91 296.60V298.60M437.83 485.70V481.70M437.83 296.60V300.60M445.76 485.70V483.70M445.76 296.60V298.60M453.68 485.70V483.70M453.68 296.60V298.60M461.60 485.70V483.70M461.60 296.60V298.60M469.53 485.70V483.70M469.53 296.60V298.60M477.45 485.70V481.70M477.45 296.60V300.60M485.37 485.70V483.70M485.37 296.60V298.60M493.30 485.70V483.70M493.30 296.60V298.60M501.22 485.70V483.70M501.22 296.60V298.60M509.14 485.70V483.70M509.14 296.60V298.60M517.07 485.70V481.70M517.07 296.60V300.60M524.99 485.70V483.70M524.99 296.60V298.60M532.91 485.70V483.70M532.91 296.60V298.60M540.84 485.70V483.70M540.84 296.60V298.60M548.76 485.70V483.70M548.76 296.60V298.60M556.68 485.70V481.70M556.68 296.60V300.60M564.61 485.70V483.70M564.61 296.60V298.60M572.53 485.70V483.70M572.53 296.60V298.60M580.45 485.70V483.70M580.45 296.60V298.60M588.38 485.70V483.70M588.38 296.60V298.60" stroke="#111111" stroke-width="1" fill="none"/>
<text x="353.30" y="488.75" text-anchor="end" font-size="12.6">-0.6</text>
<text x="353.30" y="471.56" text-anchor="end" font-size="12.6">-0.4</text>
<text x="353.30" y="454.37" text-anchor="end" font-size="12.6">-0.2</text>
<text x="353.30" y="437.18" text-anchor="end" font-size="12.6">0.0</text>
<text x="353.30" y="419.99" text-anchor="end" font-size="12.6">0.2</text>
<text x="353.30" y="402.80" text-anchor="end" font-size="12.6">0.4</text>
<text x="353.30" y="385.60" text-anchor="end" font-size="12.6">0.6</text>
<text x="353.30" y="368.41" text-anchor="end" font-size="12.6">0.8</text>
<text x="353.30" y="351.22" text-anchor="end" font-size="12.6">1.0</text>
<text x="353.30" y="334.03" text-anchor="end" font-size="12.6">1.2</text>
<text x="353.30" y="316.84" text-anchor="end" font-size="12.6">1.4</text>
<text x="353.30" y="299.65" text-anchor="end" font-size="12.6">1.6</text>
<path d="M358.60 482.26H360.60M596.30 482.26H594.30M358.60 478.82H360.60M596.30 478.82H594.30M358.60 475.39H360.60M596.30 475.39H594.30M358.60 471.95H360.60M596.30 471.95H594.30M358.60 468.51H362.60M596.30 468.51H592.30M358.60 465.07H360.60M596.30 465.07H594.30M358.60 461.63H360.60M596.30 461.63H594.30M358.60 458.19H360.60M596.30 458.19H594.30M358.60 454.76H360.60M596.30 454.76H594.30M358.60 451.32H362.60M596.30 451.32H592.30M358.60 447.88H360.60M596.30 447.88H594.30M358.60 444.44H360.60M596.30 444.44H594.30M358.60 441.00H360.60M596.30 441.00H594.30M358.60 437.57H360.60M596.30 437.57H594.30M358.60 434.13H362.60M596.30 434.13H592.30M358.60 430.69H360.60M596.30 430.69H594.30M358.60 427.25H360.60M596.30 427.25H594.30M358.60 423.81H360.60M596.30 423.81H594.30M358.60 420.37H360.60M596.30 420.37H594.30M358.60 416.94H362.60M596.30 416.94H592.30M358.60 413.50H360.60M596.30 413.50H594.30M358.60 410.06H360.60M596.30 410.06H594.30M358.60 406.62H360.60M596.30 406.62H594.30M358.60 403.18H360.60M596.30 403.18H594.30M358.60 399.75H362.60M596.30 399.75H592.30M358.60 396.31H360.60M596.30 396.31H594.30M358.60 392.87H360.60M596.30 392.87H594.30M358.60 389.43H360.60M596.30 389.43H594.30M358.60 385.99H360.60M596.30 385.99H594.30M358.60 382.55H362.60M596.30 382.55H592.30M358.60 379.12H360.60M596.30 379.12H594.30M358.60 375.68H360.60M596.30 375.68H594.30M358.60 372.24H360.60M596.30 372.24H594.30M358.60 368.80H360.60M596.30 368.80H594.30M358.60 365.36H362.60M596.30 365.36H592.30M358.60 361.93H360.60M596.30 361.93H594.30M358.60 358.49H360.60M596.30 358.49H594.30M358.60 355.05H360.60M596.30 355.05H594.30M358.60 351.61H360.60M596.30 351.61H594.30M358.60 348.17H362.60M596.30 348.17H592.30M358.60 344.73H360.60M596.30 344.73H594.30M358.60 341.30H360.60M596.30 341.30H594.30M358.60 337.86H360.60M596.30 337.86H594.30M358.60 334.42H360.60M596.30 334.42H594.30M358.60 330.98H362.60M596.30 330.98H592.30M358.60 327.54H360.60M596.30 327.54H594.30M358.60 324.11H360.60M596.30 324.11H594.30M358.60 320.67H360.60M596.30 320.67H594.30M358.60 317.23H360.60M596.30 317.23H594.30M358.60 313.79H362.60M596.30 313.79H592.30M358.60 310.35H360.60M596.30 310.35H594.30M358.60 306.91H360.60M596.30 306.91H594.30M358.60 303.48H360.60M596.30 303.48H594.30M358.60 300.04H360.60M596.30 300.04H594.30" stroke="#111111" stroke-width="1" fill="none"/>
<path d="M544.4 306.8H580.0" stroke="#ff0810" stroke-width="1.5"/>
<polygon points="562.20,303.50 565.60,309.10 558.80,309.10" fill="#ff0810"/>
<path d="M544.4 320.3H580.0" stroke="#0a28f8" stroke-width="1.5"/>
<circle cx="562.20" cy="320.30" r="3.50" fill="#0a28f8"/>
<text x="573.5" y="208.25" text-anchor="middle" font-size="12.6">20</text>
<text x="573.5" y="186.38" text-anchor="middle" font-size="12.6">40</text>
<text x="573.5" y="164.52" text-anchor="middle" font-size="12.6">60</text>
<text x="573.5" y="142.65" text-anchor="middle" font-size="12.6">80</text>
<text x="573.5" y="120.78" text-anchor="middle" font-size="12.6">100</text>
<text x="573.5" y="98.92" text-anchor="middle" font-size="12.6">120</text>
<text x="573.5" y="77.05" text-anchor="middle" font-size="12.6">140</text>
<text x="573.5" y="55.18" text-anchor="middle" font-size="12.6">160</text>
<text x="573.5" y="33.32" text-anchor="middle" font-size="12.6">180</text>
<text x="573.5" y="11.45" text-anchor="middle" font-size="12.6">200</text>
<text transform="translate(10.00,133.23) rotate(-90) scale(0.9418,1)"><tspan font-size="12.00">log</tspan></text>
<text transform="translate(13.20,117.35) rotate(-90) scale(1.0095,1)"><tspan font-size="8.50">10</tspan></text>
<text transform="translate(10.30,107.01) rotate(-90) scale(1.1035,1)"><tspan font-size="12.50">(</tspan><tspan font-size="12.50" font-family="'Liberation Serif', serif" font-style="italic">R</tspan><tspan font-size="12.50">)</tspan></text>
<text transform="translate(146.17,243.40) scale(1.1822,1)"><tspan font-size="12.00" font-family="'Liberation Serif', serif" font-style="italic">T</tspan></text>
<text transform="translate(159.74,243.40) scale(1.0703,1)"><tspan font-size="12.00">(K)</tspan></text>
<text transform="translate(76.03,267.00) scale(1.0899,1)"><tspan font-size="16.00" font-family="'Liberation Serif', serif" font-weight="bold">(a)</tspan></text>
<text transform="translate(101.10,267.00) scale(1.2496,1)"><tspan font-size="16.00">reaction rates</tspan></text>
<text transform="translate(240.52,159.00) scale(1.0912,1)"><tspan font-size="12.00">H</tspan><tspan font-size="8.50" dy="2.40">2</tspan><tspan font-size="12.00" dy="-2.40">O</tspan><tspan font-size="8.50" dy="2.40">2</tspan></text>
<text transform="translate(240.53,172.30) scale(1.0654,1)"><tspan font-size="12.00">H</tspan><tspan font-size="8.50" dy="2.40">2</tspan><tspan font-size="12.00" dy="-2.40">O</tspan></text>
<text transform="translate(240.56,185.60) scale(0.9751,1)"><tspan font-size="12.00">H</tspan><tspan font-size="8.50" dy="2.40">2</tspan></text>
<text transform="translate(240.37,198.30) scale(1.0791,1)"><tspan font-size="12.00">O</tspan><tspan font-size="8.50" dy="2.40">2</tspan></text>
<text transform="translate(325.00,145.57) rotate(-90) scale(1.1304,1)"><tspan font-size="12.00">reaction order</tspan></text>
<text transform="translate(602.80,151.83) rotate(-90) scale(1.1955,1)"><tspan font-size="12.00" font-family="'Liberation Serif', serif" font-style="italic">E</tspan></text>
<text transform="translate(596.80,142.91) rotate(-90) scale(1.3744,1)"><tspan font-size="8.50">app</tspan></text>
<text transform="translate(606.00,143.70) rotate(-90) scale(1.3391,1)"><tspan font-size="8.50">act</tspan></text>
<text transform="translate(603.30,121.07) rotate(-90) scale(1.0825,1)"><tspan font-size="12.00">(kJ mol</tspan></text>
<text transform="translate(599.40,82.00) rotate(-90) scale(1.4057,1)"><tspan font-size="8.50">−1</tspan></text>
<text transform="translate(603.30,68.35) rotate(-90) scale(1.9468,1)"><tspan font-size="12.00">)</tspan></text>
<text transform="translate(442.37,243.60) scale(1.1822,1)"><tspan font-size="12.00" font-family="'Liberation Serif', serif" font-style="italic">T</tspan></text>
<text transform="translate(455.94,243.60) scale(1.0703,1)"><tspan font-size="12.00">(K)</tspan></text>
<text transform="translate(354.26,267.10) scale(1.0524,1)"><tspan font-size="16.00" font-family="'Liberation Serif', serif" font-weight="bold">(b)</tspan></text>
<text transform="translate(380.61,267.10) scale(1.2290,1)"><tspan font-size="16.00">reaction order and</tspan></text>
<text transform="translate(531.25,267.10) scale(1.3089,1)"><tspan font-size="16.00" font-family="'Liberation Serif', serif" font-style="italic">E</tspan></text>
<text transform="translate(543.44,259.50) scale(1.3968,1)"><tspan font-size="11.50">app</tspan></text>
<text transform="translate(543.45,269.80) scale(1.3687,1)"><tspan font-size="11.50">act</tspan></text>
<text transform="translate(527.22,95.80) scale(1.1878,1)"><tspan font-size="12.00">O</tspan><tspan font-size="8.50" dy="2.40">2</tspan></text>
<text transform="translate(527.39,109.50) scale(1.1734,1)"><tspan font-size="12.00">H</tspan><tspan font-size="8.50" dy="2.40">2</tspan></text>
<text transform="translate(528.38,123.40) scale(1.2917,1)"><tspan font-size="12.00" font-family="'Liberation Serif', serif" font-style="italic">E</tspan></text>
<text transform="translate(537.19,118.00) scale(1.3658,1)"><tspan font-size="8.50">app</tspan></text>
<text transform="translate(536.73,126.60) scale(1.2450,1)"><tspan font-size="8.50">act</tspan></text>
<text transform="translate(10.30,415.56) rotate(-90) scale(1.1456,1)"><tspan font-size="12.00">Θ</tspan></text>
<text transform="translate(11.80,404.61) rotate(-90) scale(0.8914,1)"><tspan font-size="8.50" font-family="'Liberation Serif', serif" font-style="italic">x</tspan></text>
<text transform="translate(10.50,396.99) rotate(-90) scale(1.1228,1)"><tspan font-size="12.00">(ML)</tspan></text>
<text transform="translate(150.27,522.80) scale(1.1822,1)"><tspan font-size="12.00" font-family="'Liberation Serif', serif" font-style="italic">T</tspan></text>
<text transform="translate(163.84,522.80) scale(1.0703,1)"><tspan font-size="12.00">(K)</tspan></text>
<text transform="translate(88.11,546.90) scale(1.1253,1)"><tspan font-size="16.00" font-family="'Liberation Serif', serif" font-weight="bold">(c)</tspan></text>
<text transform="translate(111.72,546.90) scale(1.1929,1)"><tspan font-size="16.00">surface coverage</tspan></text>
<text transform="translate(263.96,381.60) scale(1.0935,1)"><tspan font-size="12.00">O</tspan></text>
<text transform="translate(272.81,377.97) scale(0.9490,1)"><tspan font-size="6.32" font-family="'DejaVu Sans', sans-serif">★</tspan></text>
<text transform="translate(264.57,394.80) scale(0.9537,1)"><tspan font-size="12.00">H</tspan></text>
<text transform="translate(272.34,391.37) scale(1.0904,1)"><tspan font-size="6.46" font-family="'DejaVu Sans', sans-serif">★</tspan></text>
<text transform="translate(263.12,408.46) scale(1.0074,1)"><tspan font-size="8.93" font-family="'DejaVu Sans', sans-serif">★</tspan></text>
<text transform="translate(326.00,402.59) rotate(-90) scale(1.2815,1)"><tspan font-size="12.00" font-family="'Liberation Serif', serif" font-style="italic">X</tspan></text>
<text transform="translate(327.90,391.86) rotate(-90) scale(1.0729,1)"><tspan font-size="8.50">RC</tspan></text>
<text transform="translate(462.12,522.00) scale(1.1822,1)"><tspan font-size="12.00" font-family="'Liberation Serif', serif" font-style="italic">T</tspan></text>
<text transform="translate(475.69,522.00) scale(1.0703,1)"><tspan font-size="12.00">(K)</tspan></text>
<text transform="translate(416.72,546.80) scale(1.1130,1)"><tspan font-size="16.00" font-family="'Liberation Serif', serif" font-weight="bold">(d)</tspan></text>
<text transform="translate(443.70,546.80) scale(1.2332,1)"><tspan font-size="16.00">rate control</tspan></text>
<text transform="translate(454.36,310.30) scale(1.0935,1)"><tspan font-size="12.00">O</tspan></text>
<text transform="translate(463.89,306.77) scale(1.0846,1)"><tspan font-size="5.77" font-family="'DejaVu Sans', sans-serif">★</tspan></text>
<text transform="translate(463.76,312.80) scale(1.1739,1)"><tspan font-size="8.50">2</tspan></text>
<text transform="translate(470.24,309.75) scale(1.1991,1)"><tspan font-size="15.36">→</tspan></text>
<text transform="translate(488.95,310.30) scale(1.1196,1)"><tspan font-size="12.00">O</tspan></text>
<text transform="translate(498.49,306.97) scale(1.0353,1)"><tspan font-size="6.05" font-family="'DejaVu Sans', sans-serif">★</tspan></text>
<text transform="translate(508.13,312.45) scale(1.1108,1)"><tspan font-size="15.67">+</tspan></text>
<text transform="translate(521.65,310.30) scale(1.1196,1)"><tspan font-size="12.00">O</tspan></text>
<text transform="translate(531.19,306.97) scale(1.0353,1)"><tspan font-size="6.05" font-family="'DejaVu Sans', sans-serif">★</tspan></text>
<text transform="translate(421.94,322.80) scale(1.1456,1)"><tspan font-size="12.00">O</tspan></text>
<text transform="translate(431.83,319.57) scale(0.9280,1)"><tspan font-size="6.19" font-family="'DejaVu Sans', sans-serif">★</tspan></text>
<text transform="translate(440.92,325.15) scale(1.1245,1)"><tspan font-size="15.67">+</tspan></text>
<text transform="translate(454.86,322.80) scale(0.9914,1)"><tspan font-size="12.00">H</tspan></text>
<text transform="translate(463.39,319.57) scale(1.0123,1)"><tspan font-size="6.19" font-family="'DejaVu Sans', sans-serif">★</tspan></text>
<text transform="translate(470.24,322.95) scale(1.1991,1)"><tspan font-size="15.36">→</tspan></text>
<text transform="translate(488.97,322.80) scale(1.0796,1)"><tspan font-size="12.00">OH</tspan></text>
<text transform="translate(507.69,319.57) scale(1.0123,1)"><tspan font-size="6.19" font-family="'DejaVu Sans', sans-serif">★</tspan></text>
<text transform="translate(516.73,325.15) scale(1.1108,1)"><tspan font-size="15.67">+</tspan></text>
<text transform="translate(529.30,323.86) scale(1.1421,1)"><tspan font-size="8.11" font-family="'DejaVu Sans', sans-serif">★</tspan></text>
</svg></body></html>
